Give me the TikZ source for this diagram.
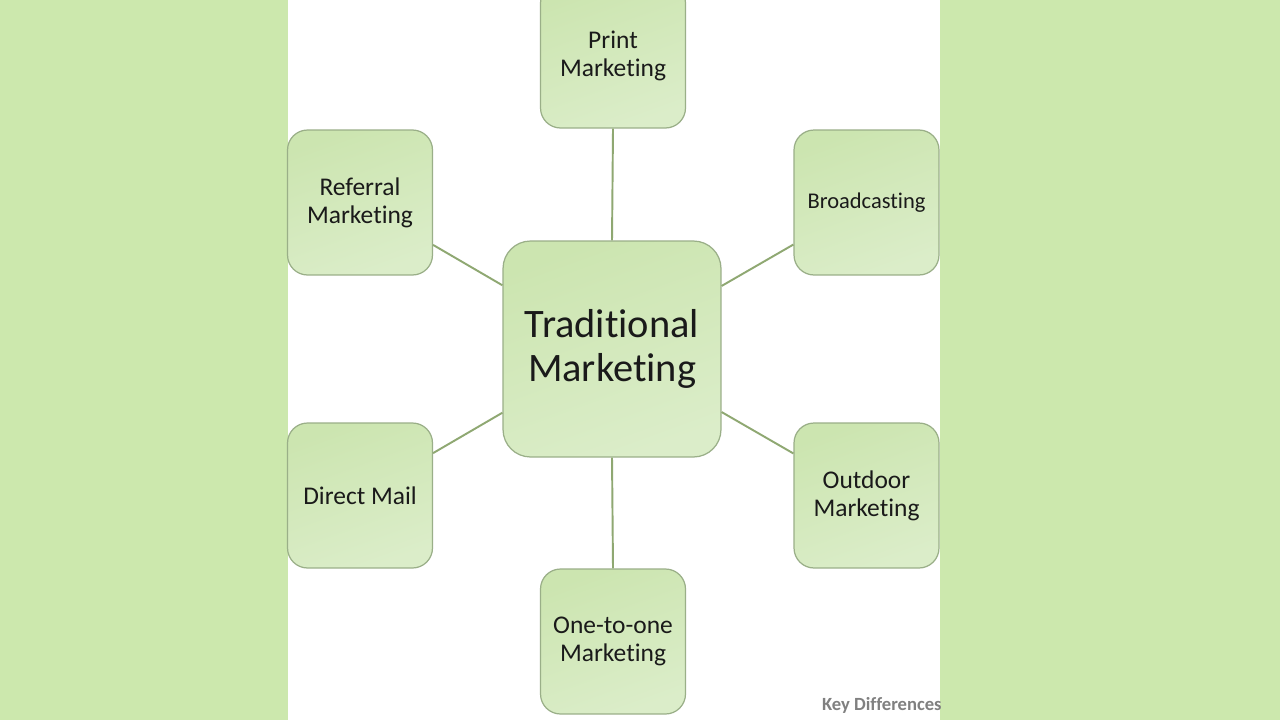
\documentclass[tikz,border=0pt]{standalone}
\usepackage{fontspec}
\setmainfont{Carlito}[Ligatures=NoCommon]
\definecolor{bgreen}{HTML}{CCE8AD}
\definecolor{boxtop}{HTML}{CCE5B0}
\definecolor{boxbot}{HTML}{DBEDC9}
\definecolor{boxline}{HTML}{9AAF88}
\definecolor{linkc}{HTML}{8FA872}
\definecolor{txt}{HTML}{1A1A1A}
\begin{document}
\begin{tikzpicture}[x=0.02cm,y=-0.02cm,
  leaf/.style={draw=boxline, line width=0.7pt, rounded corners=0.4cm,
    top color=boxtop, bottom color=boxbot, shading angle=20,
    minimum width=2.9cm, minimum height=2.9cm, align=center,
    text=txt, font=\fontsize{14.5}{16}\selectfont, inner sep=2pt},
  hub/.style={leaf, rounded corners=0.55cm, minimum width=4.36cm, minimum height=4.32cm,
    font=\fontsize{23}{25}\selectfont},
  link/.style={draw=linkc, line width=1.1pt}]
\useasboundingbox (0,0) rectangle (1280,720);
\clip (0,0) rectangle (1280,720);
\fill[bgreen] (0,0) rectangle (1280,720);
\fill[white] (288,0) rectangle (940,720);

\node[hub] (c) at (612,349) {Traditional\\Marketing};
\node[leaf] (print) at (613,55.5) {Print\\Marketing};
\node[leaf] (ref) at (360,202.5) {Referral\\Marketing};
\node[leaf, font=\fontsize{12.8}{14}\selectfont] (broad) at (866.5,202.5) {Broadcasting};
\node[leaf] (dm) at (360,495.5) {Direct Mail};
\node[leaf] (out) at (866.5,495.5) {Outdoor\\Marketing};
\node[leaf] (one) at (613,641.5) {One-to-one\\Marketing};

\draw[link] (c.north) -- (print.south);
\draw[link] (c.south) -- (one.north);
\draw[link] (c) -- (ref);
\draw[link] (c) -- (broad);
\draw[link] (c) -- (dm);
\draw[link] (c) -- (out);

\node[anchor=east, text=black!50, font=\bfseries\fontsize{10.6}{12}\selectfont, inner sep=0pt] (kd) at (942,705) {Key Differences};
\end{tikzpicture}
\end{document}
